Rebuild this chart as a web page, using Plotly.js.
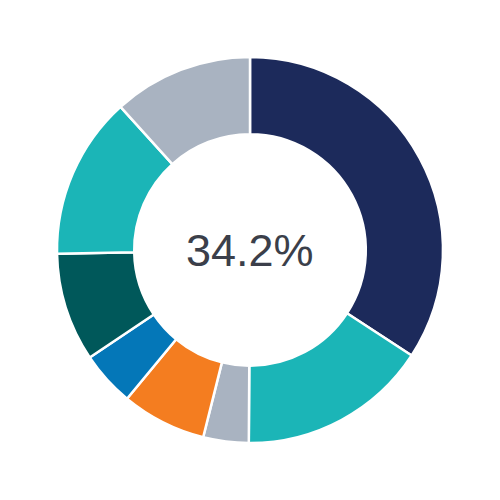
<!DOCTYPE html>
<html>
<head>
<meta charset="utf-8">
<script src="https://cdn.plot.ly/plotly-3.0.1.min.js"></script>
<style>
  html, body { margin: 0; padding: 0; background: #ffffff; }
  #chart { width: 500px; height: 500px; }
</style>
</head>
<body>
<div id="chart"></div>
<script>
// slice shares, clockwise from 12 o'clock
var labels = ['A', 'B', 'C', 'D', 'E', 'F', 'G', 'H'];
var values = [34.2, 15.9, 3.8, 7.1, 4.6, 9.1, 13.6, 11.7];
var colors = ['#1c2a5b', '#1bb5b7', '#a9b3c1', '#f47d20', '#0477b8', '#00585a', '#1bb5b7', '#a9b3c1'];
var centerText = '34.2%';

var trace = {
  type: 'pie',
  labels: labels,
  values: values,
  hole: 0.6,
  sort: false,
  direction: 'clockwise',
  rotation: 0,
  textinfo: 'none',
  hoverinfo: 'none',
  marker: {
    colors: colors,
    line: { color: '#ffffff', width: 2.5 }
  }
};

var layout = {
  width: 500,
  height: 500,
  margin: { l: 57, r: 57, t: 57, b: 57 },
  showlegend: false,
  paper_bgcolor: '#ffffff',
  annotations: [{
    text: centerText,
    x: 0.5, y: 0.5,
    xref: 'paper', yref: 'paper',
    showarrow: false,
    font: { family: 'Liberation Sans, Arial, sans-serif', size: 45, color: '#3b3f4a' }
  }]
};

Plotly.newPlot('chart', [trace], layout, { displayModeBar: false, staticPlot: true });
</script>
</body>
</html>
